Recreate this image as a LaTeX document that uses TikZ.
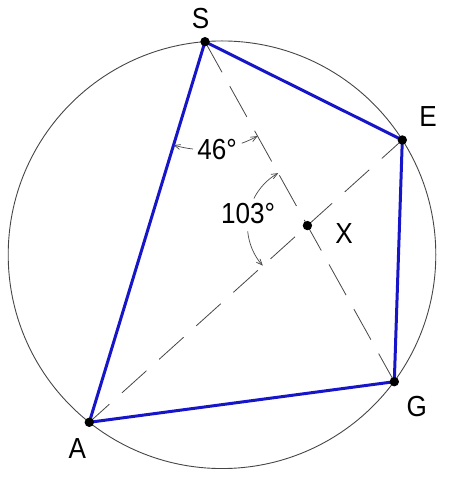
\documentclass[tikz,border=0pt]{standalone}
\usepackage{fontspec}
\setmainfont{Liberation Sans}[FakeStretch=0.9]
\usetikzlibrary{arrows.meta}
\definecolor{quadblue}{RGB}{22,22,200}
\definecolor{thingray}{RGB}{70,70,70}
\begin{document}
\begin{tikzpicture}[x=1pt,y=1pt,
  lbl/.style={inner sep=0pt,font=\fontsize{29}{30}\selectfont},
  circ/.style={draw=thingray,line width=0.9pt},
  dashline/.style={draw=thingray,line width=0.8pt},
  quad/.style={draw=quadblue,line width=3pt,line join=round},
  pt/.style={circle,fill=black,inner sep=0pt,minimum size=9.4pt},
  dimarc/.style={draw=thingray,line width=0.7pt,-{Straight Barb[length=6pt,width=5pt]}}]
\useasboundingbox (0,0) rectangle (450,477);
\coordinate (O) at (222,222.25);
\coordinate (S) at (205,435.3);
\coordinate (E) at (402.3,337);
\coordinate (G) at (394.3,95.3);
\coordinate (A) at (89.3,54.7);
\coordinate (X) at (intersection of S--G and A--E);
% circle
\draw[circ] (O) circle[radius=213.8];
% dashed diagonals
\draw[dashline,dash pattern=on 35pt off 16pt] (S) -- (G);
\draw[dashline,dash pattern=on 33pt off 17pt,dash phase=6pt] (A) -- (E);
% quadrilateral
\draw[quad] (S) -- (E) -- (G) -- (A) -- cycle;
% points
\node[pt] (Sd) at (S) {};
\node[pt] (Ed) at (E) {};
\node[pt] (Gd) at (G) {};
\node[pt] (Ad) at (A) {};
\node[pt] (Xd) at (X) {};
% labels
\node[lbl] (Sl) at (200.7,458.7) {S};
\node[lbl] (El) at (428,360.3) {E};
\node[lbl] (Gl) at (416.7,70.3) {G};
\node[lbl] (Al) at (77.3,28.7) {A};
\node[lbl] (Xl) at (344,243) {X};
\node[lbl] (a46) at (217,327) {46°};
\node[lbl] (a103) at (248,263.5) {103°};
% angle dimension arcs
\draw[dimarc] (S) ++(263.6:108) arc[start angle=263.6,end angle=253.09,radius=108];
\draw[dimarc] (S) ++(289.9:108) arc[start angle=289.9,end angle=299.11,radius=108];
\draw[dimarc] (X) ++(153.2:60) arc[start angle=153.2,end angle=119.13,radius=60];
\draw[dimarc] (X) ++(185.5:60) arc[start angle=185.5,end angle=221.95,radius=60];
\end{tikzpicture}
\end{document}
